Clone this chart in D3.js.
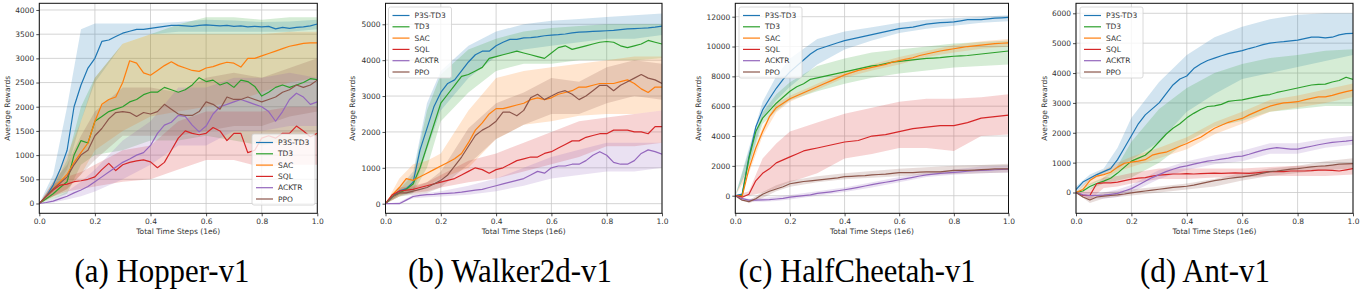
<!DOCTYPE html>
<html>
<head>
<meta charset="utf-8">
<script src="https://cdn.jsdelivr.net/npm/d3@7"></script>
<style>
  body { margin: 0; background: #fff; }
  svg text { font-family: "DejaVu Sans", sans-serif; }
</style>
</head>
<body>
<div id="canvas"></div>
<script>
"use strict"

/* Data */
let seriesNames = ["P3S-TD3", "TD3", "SAC", "SQL", "ACKTR", "PPO"];
let seriesColors = ["#1f77b4", "#2ca02c", "#ff7f0e", "#d62728", "#9467bd", "#8c564b"];
let captions = ["(a) Hopper-v1", "(b) Walker2d-v1", "(c) HalfCheetah-v1", "(d) Ant-v1"];

let timeSteps = [0, 0.025, 0.05, 0.075, 0.1, 0.125, 0.15, 0.175, 0.2, 0.225,
                 0.25, 0.275, 0.3, 0.325, 0.35, 0.375, 0.4, 0.425, 0.45, 0.475,
                 0.5, 0.525, 0.55, 0.575, 0.6, 0.625, 0.65, 0.675, 0.7, 0.725,
                 0.75, 0.775, 0.8, 0.825, 0.85, 0.875, 0.9, 0.925, 0.95, 0.975, 1.0];
let bandSteps = [0, 0.05, 0.1, 0.15, 0.2, 0.3, 0.4, 0.5, 0.6, 0.7, 0.8, 0.9, 1.0];
let xTicks = [0, 0.2, 0.4, 0.6, 0.8, 1.0];

/* (a) Hopper-v1 */
let hopperTicks = [0, 500, 1000, 1500, 2000, 2500, 3000, 3500, 4000];
let hopperMean = [
  [0,150,380,700,1100,2000,2450,2800,3000,3350,3380,3450,3520,3560,3600,3600,3620,3640,3660,3680,3680,3670,3660,3680,3690,3680,3670,3680,3660,3670,3650,3660,3650,3660,3610,3640,3620,3640,3650,3670,3710],
  [0,100,200,330,450,1000,1300,1250,1700,1800,1900,1950,2000,2100,2150,2250,2300,2300,2400,2350,2300,2350,2450,2600,2520,2550,2450,2500,2400,2550,2520,2420,2220,2300,2400,2450,2400,2450,2500,2580,2560],
  [0,150,300,450,600,850,1050,1250,1700,2050,2150,2200,2500,2950,2900,2700,2650,2750,2850,2930,2850,2800,2750,2730,2800,2830,2880,2920,2900,2820,3000,3000,3050,3100,3150,3200,3250,3280,3310,3320,3320],
  [0,150,280,380,400,450,470,500,550,700,830,680,800,850,880,900,860,740,850,1100,1350,1500,1450,1420,1450,1570,1500,1300,1450,1450,1050,1100,1350,1400,1350,1450,1450,1600,1500,1380,1450],
  [0,20,50,100,150,220,280,350,450,550,650,750,850,920,1000,1050,1200,1450,1620,1680,1820,1800,1620,1480,1600,1850,2000,2050,2100,2150,2100,2050,2000,1900,1700,1900,2150,2280,2200,2050,2100],
  [0,150,300,420,550,800,1000,1100,1400,1550,1750,1880,1900,1880,1800,1880,1850,1900,2050,1950,1850,1820,1820,1900,2100,2050,1950,2200,2150,2150,2200,2150,2100,2150,2200,2300,2350,2450,2400,2450,2550]
];
let hopperLow = [
  [0,250,700,1700,2500,3300,3500,3550,3550,3550,3550,3550,3600],
  [0,100,200,800,1000,1100,1300,1300,1400,1300,1200,1300,1400],
  [0,150,300,600,1100,1500,1800,1900,2000,2100,2300,2500,2600],
  [0,150,250,300,350,450,500,700,900,900,750,800,800],
  [0,20,80,150,250,500,800,1200,1200,1500,1500,1600,1600],
  [0,150,300,600,900,1400,1400,1400,1500,1600,1600,1800,1900]
];
let hopperHigh = [
  [0,600,2000,3600,3720,3720,3720,3750,3800,3780,3750,3760,3800],
  [0,350,900,2000,2600,3300,3500,3700,3850,3850,3800,3850,3850],
  [0,450,1000,1700,2600,3300,3500,3500,3500,3500,3500,3550,3550],
  [0,400,550,650,800,1100,1200,1700,1900,1900,1900,2000,2000],
  [0,100,250,450,700,1300,1700,2400,2400,2600,2600,2700,2600],
  [0,450,800,1400,1900,2400,2400,2300,2600,2700,2600,2800,3000]
];

/* (b) Walker2d-v1 */
let walkerTicks = [0, 1000, 2000, 3000, 4000, 5000];
let walkerMean = [
  [0,200,350,420,600,1500,2100,2700,3100,3350,3450,3700,3950,4150,4250,4250,4400,4500,4580,4580,4620,4630,4650,4680,4700,4710,4730,4760,4780,4790,4800,4810,4820,4830,4850,4870,4880,4890,4900,4920,4950],
  [0,200,300,400,550,1000,1600,2200,2800,3050,3300,3550,3600,3700,3800,4050,4100,4150,4200,4250,4200,4150,4100,4050,4200,4350,4400,4300,4350,4400,4450,4500,4520,4500,4400,4350,4400,4450,4550,4500,4450],
  [0,250,450,700,650,750,850,950,1050,1150,1250,1400,1700,2050,2250,2500,2650,2650,2700,2750,2800,2900,2950,2900,2950,3050,3100,3150,3250,3250,3300,3350,3350,3350,3400,3450,3350,3200,3100,3250,3250],
  [0,250,350,380,400,450,500,550,600,650,700,800,900,1000,950,850,950,1000,1100,1200,1250,1300,1300,1400,1450,1550,1650,1750,1750,1850,1900,1950,1950,2050,2050,2050,2000,2000,1950,2150,2150],
  [0,0,0,100,200,230,250,260,280,290,300,320,350,380,400,450,500,550,600,650,700,800,900,850,1000,1050,1050,1100,1100,1200,1350,1450,1350,1150,1100,1100,1200,1400,1500,1450,1380],
  [0,200,300,300,350,400,450,550,650,800,1050,1300,1600,1900,2050,2150,2300,2550,2550,2450,2600,2950,3050,2900,3000,3100,3150,3050,2900,3000,3150,3300,3300,3150,3300,3400,3500,3600,3500,3450,3350]
];
let walkerLow = [
  [0,250,300,1500,2600,3500,4100,4300,4400,4500,4600,4600,4700],
  [0,200,300,1000,2300,3100,3700,3900,3900,4000,4000,4000,4050],
  [0,200,400,500,700,1000,1800,2200,2300,2450,2500,2500,2600],
  [0,250,300,350,450,600,700,900,1100,1300,1600,1600,1700],
  [0,0,150,180,200,250,350,500,700,800,900,900,1000],
  [0,200,250,300,450,1100,1800,2200,2500,2500,2800,3000,2900]
];
let walkerHigh = [
  [0,450,900,2800,3700,4400,4800,5000,5100,5150,5200,5250,5300],
  [0,400,800,2600,3600,4300,4600,4800,4900,4950,5000,5000,5000],
  [0,700,1100,1200,1400,2600,3500,3700,3800,3900,4000,4100,4100],
  [0,450,500,600,800,1200,1400,1700,2000,2300,2400,2500,2600],
  [0,50,250,300,350,500,700,1000,1300,1500,1700,1700,1700],
  [0,400,450,600,900,2100,2800,3100,3500,3400,3800,4000,3900]
];

/* (c) HalfCheetah-v1 */
let cheetahTicks = [0, 2000, 4000, 6000, 8000, 10000, 12000];
let cheetahMean = [
  [0,100,2600,4600,5750,6500,7200,7800,8300,8700,9100,9500,9800,9950,10100,10250,10400,10500,10600,10700,10800,10900,11000,11100,11200,11250,11300,11400,11500,11550,11600,11620,11650,11720,11800,11800,11800,11850,11900,11920,11950],
  [0,0,2500,4300,5200,5700,6200,6600,7000,7300,7500,7800,7900,8000,8100,8200,8300,8400,8500,8600,8700,8750,8850,8950,9000,9050,9100,9150,9200,9220,9250,9300,9350,9380,9400,9450,9500,9550,9600,9650,9700],
  [0,-50,1800,3200,4300,5300,5900,6200,6500,6700,6900,7100,7300,7500,7700,7900,8100,8250,8400,8500,8600,8700,8800,8950,9050,9150,9250,9400,9500,9600,9700,9780,9850,9930,10000,10050,10100,10150,10200,10220,10250],
  [0,-100,100,1000,1500,1800,2200,2400,2600,2800,3000,3100,3200,3300,3400,3500,3600,3650,3700,3850,4000,4050,4100,4200,4300,4400,4500,4550,4600,4650,4700,4700,4700,4800,4900,5050,5200,5250,5300,5350,5400],
  [0,-200,-300,-300,-280,-260,-220,-180,-100,-50,0,50,150,200,260,330,400,480,560,650,740,820,900,980,1070,1150,1230,1320,1400,1450,1500,1530,1560,1600,1640,1680,1700,1720,1740,1760,1780],
  [0,-300,-400,-200,100,300,450,600,800,880,950,1000,1050,1100,1150,1200,1280,1300,1330,1350,1400,1420,1450,1500,1550,1550,1550,1580,1600,1600,1600,1650,1700,1700,1700,1720,1750,1770,1800,1800,1800]
];
let cheetahLow = [
  [0,2000,5200,6400,7300,8800,9800,10400,10900,11200,11400,11600,11700],
  [0,2000,4800,5700,6400,7000,7500,7900,8200,8400,8600,8700,8800],
  [0,1500,4000,5600,6300,7100,7900,8400,8800,9300,9600,9850,10000],
  [0,0,200,500,900,1500,2500,2800,3200,3200,3000,4000,4100],
  [0,-400,-400,-350,-250,0,250,550,900,1250,1400,1500,1550],
  [0,-500,-150,300,600,900,1100,1200,1300,1400,1450,1500,1550]
];
let cheetahHigh = [
  [0,3200,6300,8000,9200,10500,11000,11300,11600,11800,11900,12000,12100],
  [0,3000,5600,6800,7600,8700,9200,9600,9800,10000,10200,10300,10400],
  [0,2100,4600,6200,6700,7500,8300,8800,9300,9700,10100,10350,10500],
  [0,300,2500,3500,4300,4900,5500,5900,6300,6500,6500,6600,6800],
  [0,-200,-150,-50,50,300,550,900,1250,1550,1750,1950,2000],
  [0,-300,250,700,1000,1300,1500,1650,1800,1900,2000,2050,2150]
];

/* (d) Ant-v1 */
let antTicks = [0, 1000, 2000, 3000, 4000, 5000, 6000];
let antMean = [
  [100,350,480,600,700,800,1100,1500,1900,2300,2600,2800,3000,3300,3600,3800,3900,4150,4300,4420,4500,4580,4650,4700,4750,4820,4880,4950,5000,5030,5050,5080,5100,5150,5200,5200,5180,5200,5280,5320,5330],
  [0,50,200,300,380,480,650,850,1050,1150,1250,1450,1700,1950,2150,2300,2500,2650,2780,2880,2900,2950,3050,3080,3100,3150,3200,3250,3280,3350,3400,3450,3500,3550,3600,3620,3630,3700,3750,3860,3790],
  [0,100,400,550,600,680,850,980,1020,1050,1100,1250,1310,1350,1450,1550,1640,1750,1850,2000,2150,2250,2350,2420,2480,2600,2700,2800,2890,2950,3000,3020,3040,3100,3150,3200,3200,3250,3320,3380,3430],
  [0,-100,-100,300,320,320,350,400,450,480,500,550,580,600,620,620,630,620,630,640,650,640,650,660,650,640,660,680,700,700,700,720,720,720,730,750,750,740,720,760,800],
  [0,-80,-100,-100,-90,-60,-30,50,130,250,380,500,600,700,780,850,890,950,1000,1050,1080,1120,1150,1200,1220,1280,1350,1420,1470,1500,1480,1450,1450,1500,1550,1600,1640,1680,1700,1720,1750],
  [0,-150,-250,-150,-120,-100,-80,-50,-10,20,50,80,110,140,170,190,210,250,300,350,400,430,470,500,525,560,600,650,700,720,750,780,800,830,860,880,890,920,950,960,970]
];
let antLow = [
  [0,400,600,800,1100,1700,2700,3300,3800,4000,4200,4400,4600],
  [0,100,300,400,500,1000,1700,2200,2400,2700,2800,2900,2900],
  [0,250,450,700,850,1150,1450,1950,2300,2700,2850,3000,3200],
  [0,-250,150,200,300,450,450,500,500,550,550,550,600],
  [0,-200,-200,-150,0,450,750,950,1050,1300,1300,1500,1600],
  [0,-350,-200,-150,-100,0,100,200,400,550,650,750,800]
];
let antHigh = [
  [200,600,800,1500,2500,3700,4600,5200,5550,5800,5950,6000,6000],
  [0,300,500,900,1700,2800,3500,4000,4300,4500,4600,4750,4800],
  [0,500,750,1000,1200,1500,1850,2350,2700,3100,3250,3450,3650],
  [0,100,500,550,650,800,800,800,800,850,900,900,1000],
  [0,0,0,100,250,750,1050,1250,1400,1650,1650,1800,1900],
  [0,-100,0,50,100,200,300,450,650,800,900,1050,1150]
];

/* Drawing configuration */
let svgWidth = 1364;
let svgHeight = 298;
let axTop = 3.3;
let axBottom = 213.3;

let panels = [
  {mean: hopperMean, low: hopperLow, high: hopperHigh, ticks: hopperTicks,
   left: 39.3, right: 317.3, yMin: -203, yMax: 4138, yLabelX: 7,
   legend: {x: 252, y: 134}, captionX: 162, captionW: 175},
  {mean: walkerMean, low: walkerLow, high: walkerHigh, ticks: walkerTicks,
   left: 385.5, right: 662, yMin: -268, yMax: 5585, yLabelX: 352,
   legend: {x: 388.5, y: 7}, captionX: 510, captionW: 204},
  {mean: cheetahMean, low: cheetahLow, high: cheetahHigh, ticks: cheetahTicks,
   left: 735.3, right: 1008.5, yMin: -1180, yMax: 12898, yLabelX: 698,
   legend: {x: 739, y: 7}, captionX: 857, captionW: 237},
  {mean: antMean, low: antLow, high: antHigh, ticks: antTicks,
   left: 1076, right: 1353, yMin: -696, yMax: 6335, yLabelX: 1044,
   legend: {x: 1080, y: 7}, captionX: 1205, captionW: 130}
];

let svg = d3.select("#canvas")
    .append("svg")
    .attr("width", svgWidth)
    .attr("height", svgHeight);

svg.append("rect")
    .attr("width", svgWidth)
    .attr("height", svgHeight)
    .attr("fill", "#fff");

panels.forEach(function (p, k) {
    let xScale = d3.scaleLinear().domain([0, 1]).range([p.left, p.right]);
    let yScale = d3.scaleLinear().domain([p.yMin, p.yMax]).range([axBottom, axTop]);
    let g = svg.append("g");

    /* grid */
    let grid = g.append("g").attr("class", "grid");
    grid.selectAll("line.gx")
        .data(xTicks)
        .join("line")
        .attr("x1", d => xScale(d)).attr("x2", d => xScale(d))
        .attr("y1", axTop).attr("y2", axBottom);
    grid.selectAll("line.gy")
        .data(p.ticks)
        .join("line")
        .attr("class", "gy")
        .attr("x1", p.left).attr("x2", p.right)
        .attr("y1", d => yScale(d)).attr("y2", d => yScale(d));
    grid.selectAll("line")
        .attr("stroke", "#c9c9c9")
        .attr("stroke-width", 0.8);

    let clipId = "clip" + k;
    g.append("clipPath").attr("id", clipId)
        .append("rect")
        .attr("x", p.left).attr("y", axTop)
        .attr("width", p.right - p.left).attr("height", axBottom - axTop);

    let plot = g.append("g").attr("clip-path", "url(#" + clipId + ")");

    /* shaded ranges */
    let area = d3.area()
        .x((d, i) => xScale(bandSteps[i]))
        .y0((d, i) => yScale(d[0]))
        .y1((d, i) => yScale(d[1]));
    seriesNames.forEach(function (name, s) {
        let pairs = p.low[s].map((v, i) => [v, p.high[s][i]]);
        plot.append("path")
            .attr("d", area(pairs))
            .attr("fill", seriesColors[s])
            .attr("opacity", 0.2);
    });

    /* mean curves */
    let line = d3.line()
        .x((d, i) => xScale(timeSteps[i]))
        .y(d => yScale(d));
    seriesNames.forEach(function (name, s) {
        plot.append("path")
            .attr("d", line(p.mean[s]))
            .attr("fill", "none")
            .attr("stroke", seriesColors[s])
            .attr("stroke-width", 1.2)
            .attr("stroke-linejoin", "round");
    });

    /* axes */
    let xAxis = g.append("g")
        .attr("transform", "translate(0," + axBottom + ")")
        .call(d3.axisBottom(xScale).tickValues(xTicks).tickFormat(d3.format(".1f")).tickSize(3).tickPadding(2));
    let yAxis = g.append("g")
        .attr("transform", "translate(" + p.left + ",0)")
        .call(d3.axisLeft(yScale).tickValues(p.ticks).tickFormat(d => String(d)).tickSize(3).tickPadding(2));
    [xAxis, yAxis].forEach(function (ax) {
        ax.select(".domain").remove();
        ax.selectAll("line").attr("stroke", "#222").attr("stroke-width", 0.8);
        ax.selectAll("text")
            .attr("fill", "#333")
            .style("font-size", "7.5px");
    });

    /* frame */
    g.append("rect")
        .attr("x", p.left).attr("y", axTop)
        .attr("width", p.right - p.left).attr("height", axBottom - axTop)
        .attr("fill", "none")
        .attr("stroke", "#111")
        .attr("stroke-width", 1);

    /* axis labels */
    g.append("text")
        .attr("x", (p.left + p.right) / 2)
        .attr("y", 234)
        .attr("text-anchor", "middle")
        .attr("fill", "#333")
        .style("font-size", "7.5px")
        .text("Total Time Steps (1e6)");
    g.append("text")
        .attr("transform", "translate(" + p.yLabelX + "," + ((axTop + axBottom) / 2) + ") rotate(-90)")
        .attr("text-anchor", "middle")
        .attr("dominant-baseline", "central")
        .attr("fill", "#333")
        .style("font-size", "7.5px")
        .text("Average Rewards");

    /* legend */
    let lg = g.append("g").attr("transform", "translate(" + p.legend.x + "," + p.legend.y + ")");
    lg.append("rect")
        .attr("width", 63).attr("height", 71)
        .attr("rx", 2)
        .attr("fill", "#fff").attr("fill-opacity", 0.8)
        .attr("stroke", "#d0d0d0").attr("stroke-width", 0.8);
    seriesNames.forEach(function (name, s) {
        let yy = 8.5 + s * 11.3;
        lg.append("line")
            .attr("x1", 4).attr("x2", 21)
            .attr("y1", yy).attr("y2", yy)
            .attr("stroke", seriesColors[s])
            .attr("stroke-width", 1.2);
        lg.append("text")
            .attr("x", 26).attr("y", yy)
            .attr("dominant-baseline", "central")
            .attr("fill", "#333")
            .style("font-size", "7.5px")
            .text(name);
    });

    /* caption */
    svg.append("text")
        .attr("x", p.captionX - p.captionW / 2)
        .attr("y", 282)
        .attr("textLength", p.captionW)
        .attr("lengthAdjust", "spacingAndGlyphs")
        .style("font-family", "'Liberation Serif', 'Times New Roman', serif")
        .style("font-size", "33px")
        .attr("fill", "#000")
        .text(captions[k]);
});
</script>
</body>
</html>
